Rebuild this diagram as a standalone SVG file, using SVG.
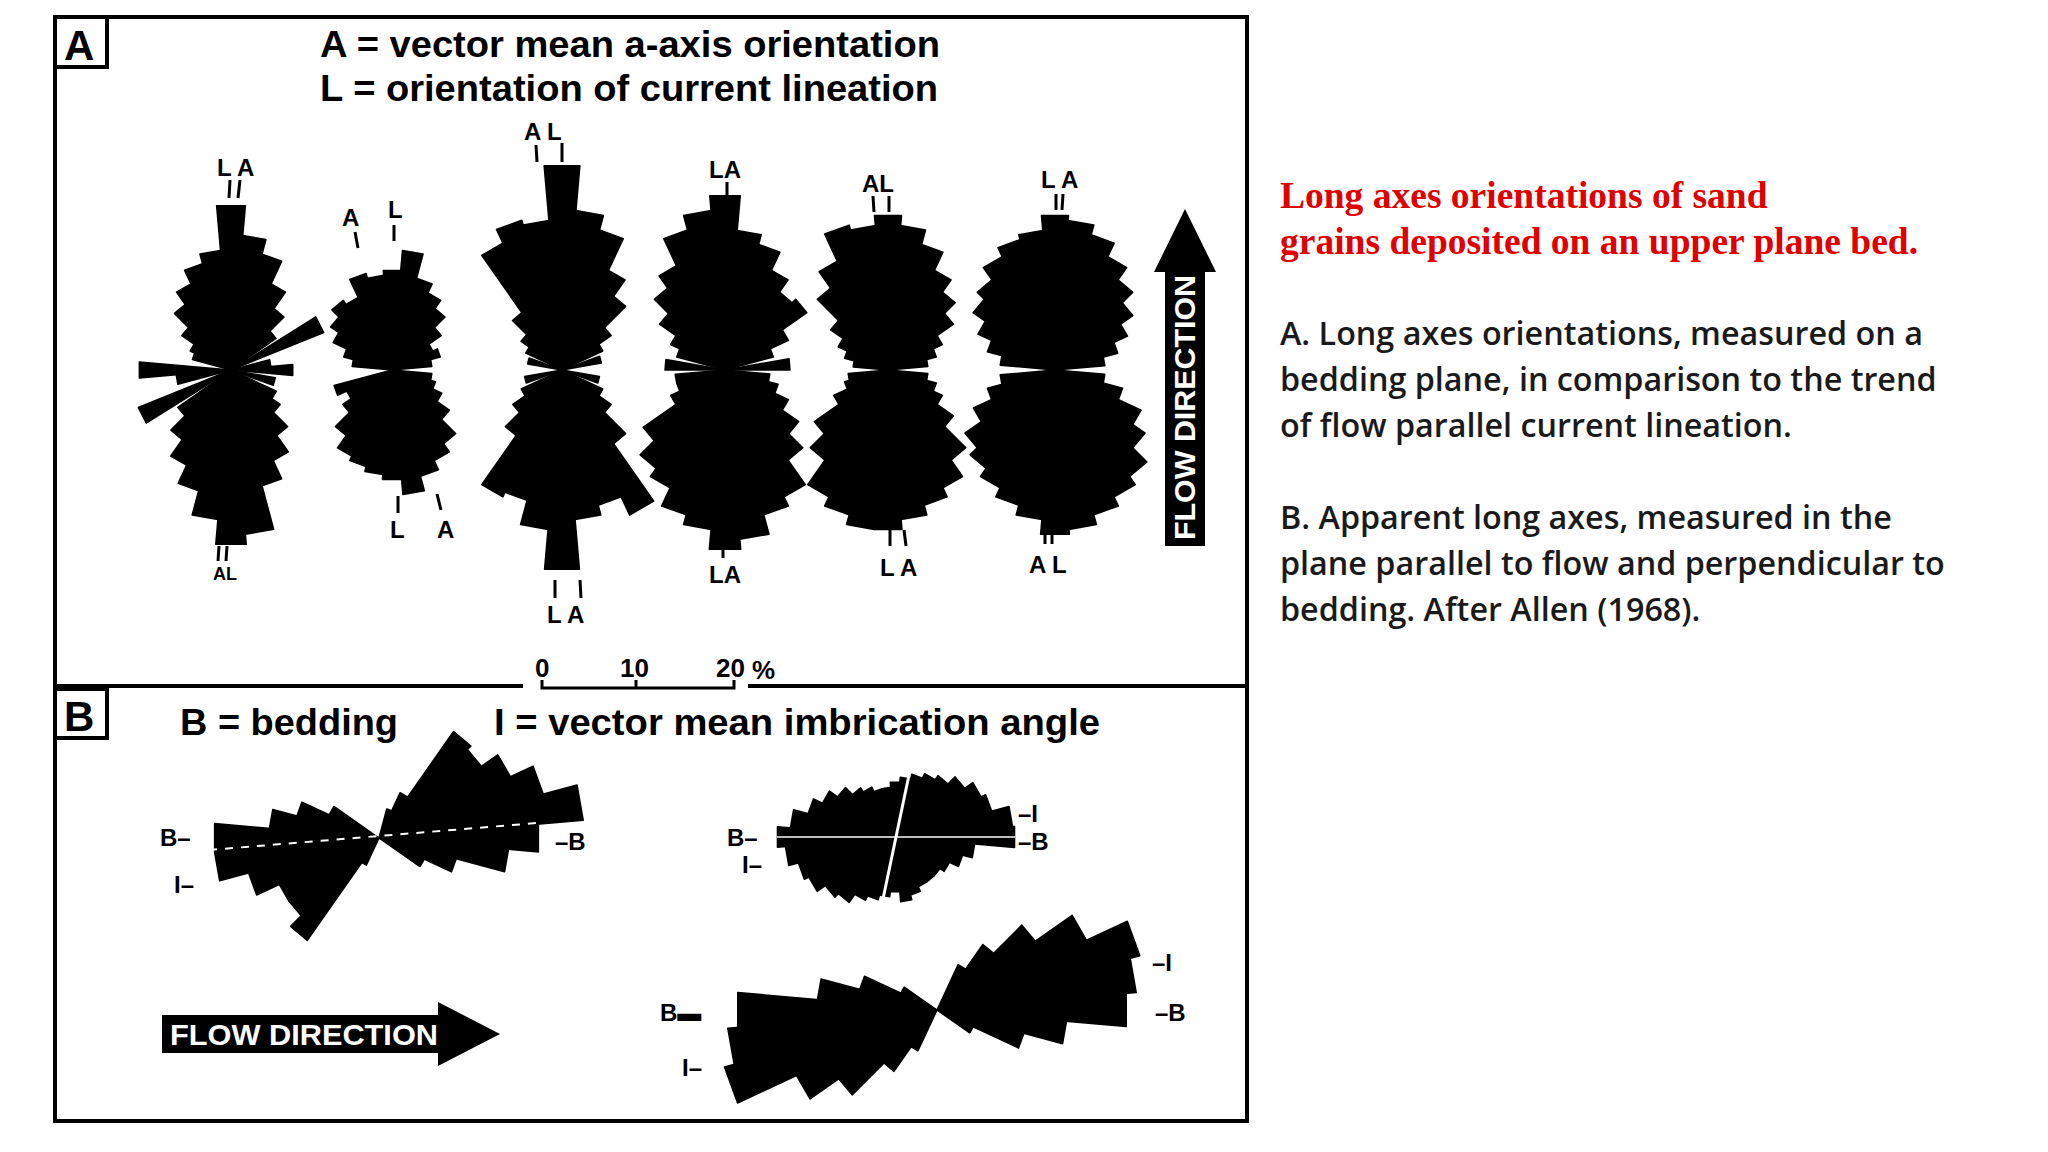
<svg xmlns="http://www.w3.org/2000/svg" xmlns:xlink="http://www.w3.org/1999/xlink" width="2048" height="1152" viewBox="0 0 2048 1152">
<style>
.lbl{font-family:"Liberation Sans",Arial,sans-serif;font-weight:bold;fill:#000}
.tk{stroke:#000;stroke-width:3;fill:none}
.red{font-family:"Liberation Serif","Times New Roman",serif;font-weight:bold;fill:#e00000;font-size:37.5px}
.body{font-family:"Open Sans","Noto Sans",sans-serif;font-weight:600;fill:#1a1a1a;font-size:32.3px}
</style>
<defs>
<path id="w" d="M0 0L-0.0872-0.9962L0.0872-0.9962Z" fill="#000" stroke="#000" stroke-width="1.5" vector-effect="non-scaling-stroke" stroke-linejoin="round"/>
</defs>
<rect width="2048" height="1152" fill="#fff"/>
<g id="frame">
<rect x="55" y="17" width="1192" height="1104" fill="none" stroke="#000" stroke-width="4"/>
<line x1="55" y1="686" x2="523" y2="686" stroke="#000" stroke-width="4"/>
<line x1="748" y1="686" x2="1247" y2="686" stroke="#000" stroke-width="4"/>
<rect x="55" y="17" width="52" height="50" fill="none" stroke="#000" stroke-width="4"/>
<text class="lbl" x="64" y="60" font-size="42">A</text>
<rect x="55" y="689" width="52" height="49" fill="none" stroke="#000" stroke-width="4"/>
<text class="lbl" x="64" y="731" font-size="42">B</text>
<text class="lbl" x="320" y="57" font-size="36" textLength="620" lengthAdjust="spacingAndGlyphs">A = vector mean a-axis orientation</text>
<text class="lbl" x="320" y="101" font-size="36" textLength="618" lengthAdjust="spacingAndGlyphs">L = orientation of current lineation</text>
<text class="lbl" x="180" y="735" font-size="36" textLength="218" lengthAdjust="spacingAndGlyphs">B = bedding</text>
<text class="lbl" x="494" y="735" font-size="36" textLength="606" lengthAdjust="spacingAndGlyphs">I = vector mean imbrication angle</text>
</g>
<g id="scale">
<text class="lbl" x="535" y="677" font-size="26">0</text>
<text class="lbl" x="620" y="677" font-size="26">10</text>
<text class="lbl" x="716" y="677" font-size="26">20</text>
<text class="lbl" x="752" y="679" font-size="26">%</text>
<path d="M542 680V688H734V680M636 680V688" class="tk" stroke-width="5"/>
</g>
<g id="roseA1" transform="translate(231,370)">
<use xlink:href="#w" transform="rotate(0) scale(165)"/><use xlink:href="#w" transform="rotate(10) scale(135)"/><use xlink:href="#w" transform="rotate(20) scale(120)"/><use xlink:href="#w" transform="rotate(30) scale(95)"/><use xlink:href="#w" transform="rotate(40) scale(75)"/><use xlink:href="#w" transform="rotate(50) scale(55)"/><use xlink:href="#w" transform="rotate(63) scale(100)"/><use xlink:href="#w" transform="rotate(80) scale(40)"/><use xlink:href="#w" transform="rotate(90) scale(62)"/>
<use xlink:href="#w" transform="rotate(-10) scale(120)"/><use xlink:href="#w" transform="rotate(-20) scale(110)"/><use xlink:href="#w" transform="rotate(-30) scale(95)"/><use xlink:href="#w" transform="rotate(-40) scale(80)"/><use xlink:href="#w" transform="rotate(-50) scale(60)"/><use xlink:href="#w" transform="rotate(-60) scale(45)"/><use xlink:href="#w" transform="rotate(-70) scale(40)"/><use xlink:href="#w" transform="rotate(-90) scale(92)"/>
<use xlink:href="#w" transform="rotate(180) scale(175)"/><use xlink:href="#w" transform="rotate(170) scale(165)"/><use xlink:href="#w" transform="rotate(190) scale(150)"/><use xlink:href="#w" transform="rotate(160) scale(120)"/><use xlink:href="#w" transform="rotate(200) scale(125)"/><use xlink:href="#w" transform="rotate(150) scale(100)"/><use xlink:href="#w" transform="rotate(210) scale(105)"/><use xlink:href="#w" transform="rotate(140) scale(80)"/><use xlink:href="#w" transform="rotate(220) scale(85)"/><use xlink:href="#w" transform="rotate(130) scale(60)"/><use xlink:href="#w" transform="rotate(230) scale(65)"/><use xlink:href="#w" transform="rotate(120) scale(50)"/><use xlink:href="#w" transform="rotate(243) scale(100)"/><use xlink:href="#w" transform="rotate(260) scale(55)"/><use xlink:href="#w" transform="rotate(105) scale(45)"/>
</g>
<g id="roseA2" transform="translate(392,370)">
<use xlink:href="#w" transform="rotate(0) scale(100)"/><use xlink:href="#w" transform="rotate(10) scale(120)"/><use xlink:href="#w" transform="rotate(-10) scale(95)"/><use xlink:href="#w" transform="rotate(20) scale(95)"/><use xlink:href="#w" transform="rotate(-20) scale(100)"/><use xlink:href="#w" transform="rotate(30) scale(85)"/><use xlink:href="#w" transform="rotate(-30) scale(80)"/><use xlink:href="#w" transform="rotate(40) scale(75)"/><use xlink:href="#w" transform="rotate(-40) scale(85)"/><use xlink:href="#w" transform="rotate(50) scale(60)"/><use xlink:href="#w" transform="rotate(-50) scale(75)"/><use xlink:href="#w" transform="rotate(-60) scale(65)"/><use xlink:href="#w" transform="rotate(60) scale(45)"/><use xlink:href="#w" transform="rotate(70) scale(50)"/><use xlink:href="#w" transform="rotate(-70) scale(50)"/><use xlink:href="#w" transform="rotate(80) scale(40)"/><use xlink:href="#w" transform="rotate(-80) scale(40)"/>
<use xlink:href="#w" transform="rotate(180) scale(110)"/><use xlink:href="#w" transform="rotate(170) scale(125)"/><use xlink:href="#w" transform="rotate(190) scale(105)"/><use xlink:href="#w" transform="rotate(160) scale(110)"/><use xlink:href="#w" transform="rotate(200) scale(100)"/><use xlink:href="#w" transform="rotate(150) scale(100)"/><use xlink:href="#w" transform="rotate(210) scale(95)"/><use xlink:href="#w" transform="rotate(140) scale(90)"/><use xlink:href="#w" transform="rotate(220) scale(80)"/><use xlink:href="#w" transform="rotate(130) scale(70)"/><use xlink:href="#w" transform="rotate(230) scale(60)"/><use xlink:href="#w" transform="rotate(120) scale(55)"/><use xlink:href="#w" transform="rotate(240) scale(50)"/><use xlink:href="#w" transform="rotate(110) scale(45)"/><use xlink:href="#w" transform="rotate(250) scale(60)"/><use xlink:href="#w" transform="rotate(100) scale(40)"/>
</g>
<g id="roseA3" transform="translate(562,370)">
<use xlink:href="#w" transform="rotate(0) scale(205)"/><use xlink:href="#w" transform="rotate(10) scale(160)"/><use xlink:href="#w" transform="rotate(-10) scale(150)"/><use xlink:href="#w" transform="rotate(20) scale(145)"/><use xlink:href="#w" transform="rotate(-20) scale(155)"/><use xlink:href="#w" transform="rotate(30) scale(110)"/><use xlink:href="#w" transform="rotate(-30) scale(140)"/><use xlink:href="#w" transform="rotate(40) scale(90)"/><use xlink:href="#w" transform="rotate(-40) scale(70)"/><use xlink:href="#w" transform="rotate(50) scale(60)"/><use xlink:href="#w" transform="rotate(-50) scale(50)"/><use xlink:href="#w" transform="rotate(60) scale(45)"/><use xlink:href="#w" transform="rotate(-60) scale(40)"/><use xlink:href="#w" transform="rotate(75) scale(40)"/><use xlink:href="#w" transform="rotate(-75) scale(35)"/>
<use xlink:href="#w" transform="rotate(180) scale(200)"/><use xlink:href="#w" transform="rotate(170) scale(150)"/><use xlink:href="#w" transform="rotate(190) scale(160)"/><use xlink:href="#w" transform="rotate(160) scale(140)"/><use xlink:href="#w" transform="rotate(200) scale(135)"/><use xlink:href="#w" transform="rotate(150) scale(160)"/><use xlink:href="#w" transform="rotate(210) scale(140)"/><use xlink:href="#w" transform="rotate(140) scale(90)"/><use xlink:href="#w" transform="rotate(220) scale(80)"/><use xlink:href="#w" transform="rotate(130) scale(60)"/><use xlink:href="#w" transform="rotate(230) scale(60)"/><use xlink:href="#w" transform="rotate(120) scale(45)"/><use xlink:href="#w" transform="rotate(240) scale(45)"/><use xlink:href="#w" transform="rotate(105) scale(38)"/><use xlink:href="#w" transform="rotate(255) scale(38)"/>
</g>
<g id="roseA4" transform="translate(725,370)">
<use xlink:href="#w" transform="rotate(0) scale(175)"/><use xlink:href="#w" transform="rotate(10) scale(140)"/><use xlink:href="#w" transform="rotate(-10) scale(160)"/><use xlink:href="#w" transform="rotate(20) scale(130)"/><use xlink:href="#w" transform="rotate(-20) scale(145)"/><use xlink:href="#w" transform="rotate(30) scale(110)"/><use xlink:href="#w" transform="rotate(-30) scale(115)"/><use xlink:href="#w" transform="rotate(40) scale(95)"/><use xlink:href="#w" transform="rotate(-40) scale(100)"/><use xlink:href="#w" transform="rotate(50) scale(100)"/><use xlink:href="#w" transform="rotate(-50) scale(80)"/><use xlink:href="#w" transform="rotate(60) scale(70)"/><use xlink:href="#w" transform="rotate(-60) scale(60)"/><use xlink:href="#w" transform="rotate(70) scale(50)"/><use xlink:href="#w" transform="rotate(-70) scale(50)"/><use xlink:href="#w" transform="rotate(85) scale(65)"/><use xlink:href="#w" transform="rotate(-85) scale(60)"/>
<use xlink:href="#w" transform="rotate(180) scale(180)"/><use xlink:href="#w" transform="rotate(170) scale(170)"/><use xlink:href="#w" transform="rotate(190) scale(160)"/><use xlink:href="#w" transform="rotate(160) scale(150)"/><use xlink:href="#w" transform="rotate(200) scale(150)"/><use xlink:href="#w" transform="rotate(150) scale(140)"/><use xlink:href="#w" transform="rotate(210) scale(130)"/><use xlink:href="#w" transform="rotate(140) scale(110)"/><use xlink:href="#w" transform="rotate(220) scale(120)"/><use xlink:href="#w" transform="rotate(130) scale(90)"/><use xlink:href="#w" transform="rotate(230) scale(100)"/><use xlink:href="#w" transform="rotate(120) scale(70)"/><use xlink:href="#w" transform="rotate(240) scale(60)"/><use xlink:href="#w" transform="rotate(110) scale(55)"/><use xlink:href="#w" transform="rotate(250) scale(50)"/><use xlink:href="#w" transform="rotate(100) scale(45)"/><use xlink:href="#w" transform="rotate(260) scale(50)"/>
</g>
<g id="roseA5" transform="translate(888,370)">
<use xlink:href="#w" transform="rotate(0) scale(155)"/><use xlink:href="#w" transform="rotate(10) scale(145)"/><use xlink:href="#w" transform="rotate(-10) scale(145)"/><use xlink:href="#w" transform="rotate(20) scale(130)"/><use xlink:href="#w" transform="rotate(-20) scale(150)"/><use xlink:href="#w" transform="rotate(30) scale(110)"/><use xlink:href="#w" transform="rotate(-30) scale(120)"/><use xlink:href="#w" transform="rotate(40) scale(95)"/><use xlink:href="#w" transform="rotate(-40) scale(100)"/><use xlink:href="#w" transform="rotate(50) scale(80)"/><use xlink:href="#w" transform="rotate(-50) scale(70)"/><use xlink:href="#w" transform="rotate(60) scale(60)"/><use xlink:href="#w" transform="rotate(-60) scale(55)"/><use xlink:href="#w" transform="rotate(70) scale(50)"/><use xlink:href="#w" transform="rotate(-70) scale(45)"/><use xlink:href="#w" transform="rotate(80) scale(40)"/><use xlink:href="#w" transform="rotate(-80) scale(35)"/>
<use xlink:href="#w" transform="rotate(180) scale(160)"/><use xlink:href="#w" transform="rotate(170) scale(150)"/><use xlink:href="#w" transform="rotate(190) scale(160)"/><use xlink:href="#w" transform="rotate(160) scale(140)"/><use xlink:href="#w" transform="rotate(200) scale(150)"/><use xlink:href="#w" transform="rotate(150) scale(130)"/><use xlink:href="#w" transform="rotate(210) scale(140)"/><use xlink:href="#w" transform="rotate(140) scale(110)"/><use xlink:href="#w" transform="rotate(220) scale(110)"/><use xlink:href="#w" transform="rotate(130) scale(80)"/><use xlink:href="#w" transform="rotate(230) scale(90)"/><use xlink:href="#w" transform="rotate(120) scale(60)"/><use xlink:href="#w" transform="rotate(240) scale(60)"/><use xlink:href="#w" transform="rotate(110) scale(50)"/><use xlink:href="#w" transform="rotate(250) scale(45)"/><use xlink:href="#w" transform="rotate(100) scale(40)"/><use xlink:href="#w" transform="rotate(260) scale(40)"/>
</g>
<g id="roseA6" transform="translate(1055,370)">
<use xlink:href="#w" transform="rotate(0) scale(155)"/><use xlink:href="#w" transform="rotate(10) scale(150)"/><use xlink:href="#w" transform="rotate(-10) scale(140)"/><use xlink:href="#w" transform="rotate(20) scale(140)"/><use xlink:href="#w" transform="rotate(-20) scale(135)"/><use xlink:href="#w" transform="rotate(30) scale(125)"/><use xlink:href="#w" transform="rotate(-30) scale(125)"/><use xlink:href="#w" transform="rotate(40) scale(110)"/><use xlink:href="#w" transform="rotate(-40) scale(110)"/><use xlink:href="#w" transform="rotate(50) scale(95)"/><use xlink:href="#w" transform="rotate(-50) scale(100)"/><use xlink:href="#w" transform="rotate(60) scale(80)"/><use xlink:href="#w" transform="rotate(-60) scale(85)"/><use xlink:href="#w" transform="rotate(70) scale(65)"/><use xlink:href="#w" transform="rotate(-70) scale(70)"/><use xlink:href="#w" transform="rotate(80) scale(50)"/><use xlink:href="#w" transform="rotate(-80) scale(55)"/>
<use xlink:href="#w" transform="rotate(180) scale(165)"/><use xlink:href="#w" transform="rotate(170) scale(160)"/><use xlink:href="#w" transform="rotate(190) scale(150)"/><use xlink:href="#w" transform="rotate(160) scale(150)"/><use xlink:href="#w" transform="rotate(200) scale(140)"/><use xlink:href="#w" transform="rotate(150) scale(140)"/><use xlink:href="#w" transform="rotate(210) scale(130)"/><use xlink:href="#w" transform="rotate(140) scale(130)"/><use xlink:href="#w" transform="rotate(220) scale(120)"/><use xlink:href="#w" transform="rotate(130) scale(110)"/><use xlink:href="#w" transform="rotate(230) scale(110)"/><use xlink:href="#w" transform="rotate(120) scale(95)"/><use xlink:href="#w" transform="rotate(240) scale(90)"/><use xlink:href="#w" transform="rotate(110) scale(70)"/><use xlink:href="#w" transform="rotate(250) scale(70)"/><use xlink:href="#w" transform="rotate(100) scale(50)"/><use xlink:href="#w" transform="rotate(260) scale(55)"/>
</g>
<g id="labelsA">
<text class="lbl" x="217" y="176" font-size="24">L A</text>
<path class="tk" d="M230 180L229 198M240 180L238 198M219 546L218 561M227 546L226 561"/>
<text class="lbl" x="213" y="580" font-size="18">AL</text>
<text class="lbl" x="342" y="226" font-size="24">A</text>
<text class="lbl" x="388" y="218" font-size="24">L</text>
<path class="tk" d="M355 232L358 248M394 225L394 241M398 496L398 513M437 494L441 510"/>
<text class="lbl" x="390" y="538" font-size="24">L</text>
<text class="lbl" x="437" y="538" font-size="24">A</text>
<text class="lbl" x="524" y="140" font-size="24">A L</text>
<path class="tk" d="M536 145L537 162M562 143L562 162M555 580L555 598M580 580L581 598"/>
<text class="lbl" x="547" y="623" font-size="24">L A</text>
<text class="lbl" x="709" y="178" font-size="24">LA</text>
<path class="tk" d="M727 182L727 200M723 540L723 558"/>
<text class="lbl" x="709" y="583" font-size="24">LA</text>
<text class="lbl" x="862" y="192" font-size="24">AL</text>
<path class="tk" d="M873 196L874 212M889 196L889 212M890 530L890 546M904 530L906 546"/>
<text class="lbl" x="880" y="576" font-size="24">L A</text>
<text class="lbl" x="1041" y="188" font-size="24">L A</text>
<path class="tk" d="M1056 194L1056 210M1063 194L1062 210M1045 528L1045 544M1052 528L1052 544"/>
<text class="lbl" x="1029" y="573" font-size="24">A L</text>
</g>
<g id="flowA">
<rect x="1165" y="268" width="40" height="278" fill="#000"/>
<path d="M1154 272L1185 209L1216 272Z" fill="#000"/>
<text class="lbl" transform="translate(1195,540) rotate(-90)" font-size="29" style="fill:#fff" textLength="265" lengthAdjust="spacingAndGlyphs">FLOW DIRECTION</text>
</g>
<g id="roseB1" transform="translate(379,838)">
<use xlink:href="#w" transform="rotate(90) scale(160)"/><use xlink:href="#w" transform="rotate(80) scale(205)"/><use xlink:href="#w" transform="rotate(70) scale(170)"/><use xlink:href="#w" transform="rotate(60) scale(145)"/><use xlink:href="#w" transform="rotate(50) scale(125)"/><use xlink:href="#w" transform="rotate(40) scale(130)"/><use xlink:href="#w" transform="rotate(30) scale(50)"/><use xlink:href="#w" transform="rotate(20) scale(30)"/><use xlink:href="#w" transform="rotate(100) scale(130)"/><use xlink:href="#w" transform="rotate(110) scale(80)"/><use xlink:href="#w" transform="rotate(120) scale(50)"/>
<use xlink:href="#w" transform="rotate(270) scale(165)"/><use xlink:href="#w" transform="rotate(260) scale(165)"/><use xlink:href="#w" transform="rotate(250) scale(135)"/><use xlink:href="#w" transform="rotate(240) scale(110)"/><use xlink:href="#w" transform="rotate(230) scale(110)"/><use xlink:href="#w" transform="rotate(220) scale(125)"/><use xlink:href="#w" transform="rotate(210) scale(30)"/><use xlink:href="#w" transform="rotate(280) scale(110)"/><use xlink:href="#w" transform="rotate(290) scale(85)"/><use xlink:href="#w" transform="rotate(300) scale(55)"/>
<line x1="-170" y1="12" x2="158" y2="-15" stroke="#fff" stroke-width="2" stroke-dasharray="8 8"/>
</g>
<g id="roseB2" transform="translate(895,837)">
<use xlink:href="#w" transform="rotate(90) scale(120)"/><use xlink:href="#w" transform="rotate(80) scale(118)"/><use xlink:href="#w" transform="rotate(70) scale(100)"/><use xlink:href="#w" transform="rotate(60) scale(95)"/><use xlink:href="#w" transform="rotate(50) scale(85)"/><use xlink:href="#w" transform="rotate(40) scale(75)"/><use xlink:href="#w" transform="rotate(30) scale(70)"/><use xlink:href="#w" transform="rotate(20) scale(65)"/><use xlink:href="#w" transform="rotate(10) scale(60)"/><use xlink:href="#w" transform="rotate(0) scale(55)"/><use xlink:href="#w" transform="rotate(-10) scale(50)"/><use xlink:href="#w" transform="rotate(-20) scale(50)"/><use xlink:href="#w" transform="rotate(-30) scale(55)"/><use xlink:href="#w" transform="rotate(-40) scale(60)"/><use xlink:href="#w" transform="rotate(-50) scale(70)"/><use xlink:href="#w" transform="rotate(-60) scale(80)"/><use xlink:href="#w" transform="rotate(-70) scale(90)"/><use xlink:href="#w" transform="rotate(-80) scale(105)"/><use xlink:href="#w" transform="rotate(-90) scale(118)"/>
<use xlink:href="#w" transform="rotate(100) scale(80)"/><use xlink:href="#w" transform="rotate(110) scale(70)"/><use xlink:href="#w" transform="rotate(120) scale(60)"/><use xlink:href="#w" transform="rotate(130) scale(55)"/><use xlink:href="#w" transform="rotate(140) scale(55)"/><use xlink:href="#w" transform="rotate(150) scale(55)"/><use xlink:href="#w" transform="rotate(160) scale(60)"/><use xlink:href="#w" transform="rotate(170) scale(65)"/><use xlink:href="#w" transform="rotate(180) scale(55)"/><use xlink:href="#w" transform="rotate(190) scale(60)"/><use xlink:href="#w" transform="rotate(200) scale(65)"/><use xlink:href="#w" transform="rotate(210) scale(70)"/><use xlink:href="#w" transform="rotate(220) scale(80)"/><use xlink:href="#w" transform="rotate(230) scale(85)"/><use xlink:href="#w" transform="rotate(240) scale(95)"/><use xlink:href="#w" transform="rotate(250) scale(100)"/><use xlink:href="#w" transform="rotate(260) scale(110)"/>
<line x1="-118" y1="0" x2="120" y2="0" stroke="#bbb" stroke-width="2"/>
<line x1="-12" y1="62" x2="14" y2="-62" stroke="#fff" stroke-width="3"/>
</g>
<g id="roseB3" transform="translate(937,1010)">
<use xlink:href="#w" transform="rotate(90) scale(190)"/><use xlink:href="#w" transform="rotate(80) scale(200)"/><use xlink:href="#w" transform="rotate(70) scale(210)"/><use xlink:href="#w" transform="rotate(60) scale(165)"/><use xlink:href="#w" transform="rotate(50) scale(120)"/><use xlink:href="#w" transform="rotate(40) scale(80)"/><use xlink:href="#w" transform="rotate(30) scale(50)"/><use xlink:href="#w" transform="rotate(100) scale(130)"/><use xlink:href="#w" transform="rotate(110) scale(90)"/><use xlink:href="#w" transform="rotate(120) scale(40)"/>
<use xlink:href="#w" transform="rotate(270) scale(200)"/><use xlink:href="#w" transform="rotate(260) scale(210)"/><use xlink:href="#w" transform="rotate(250) scale(220)"/><use xlink:href="#w" transform="rotate(240) scale(155)"/><use xlink:href="#w" transform="rotate(230) scale(120)"/><use xlink:href="#w" transform="rotate(220) scale(75)"/><use xlink:href="#w" transform="rotate(210) scale(45)"/><use xlink:href="#w" transform="rotate(280) scale(120)"/><use xlink:href="#w" transform="rotate(290) scale(80)"/><use xlink:href="#w" transform="rotate(300) scale(40)"/>
</g>
<g id="labelsB">
<text class="lbl" x="160" y="846" font-size="24">B–</text>
<text class="lbl" x="552" y="806" font-size="24">–I</text>
<text class="lbl" x="555" y="850" font-size="24">–B</text>
<text class="lbl" x="174" y="893" font-size="24">I–</text>
<text class="lbl" x="727" y="846" font-size="24">B–</text>
<text class="lbl" x="742" y="873" font-size="24">I–</text>
<text class="lbl" x="1018" y="822" font-size="24">–I</text>
<text class="lbl" x="1018" y="850" font-size="24">–B</text>
<text class="lbl" x="660" y="1021" font-size="24">B▬</text>
<text class="lbl" x="682" y="1076" font-size="24">I–</text>
<text class="lbl" x="1152" y="971" font-size="24">–I</text>
<text class="lbl" x="1155" y="1021" font-size="24">–B</text>
</g>
<g id="flowB">
<rect x="162" y="1015" width="278" height="38" fill="#000"/>
<path d="M438 1002L500 1034L438 1066Z" fill="#000"/>
<text class="lbl" x="170" y="1045" font-size="30" style="fill:#fff" textLength="268" lengthAdjust="spacingAndGlyphs">FLOW DIRECTION</text>
</g>
<g id="caption">
<text class="red" x="1280" y="208">Long axes orientations of sand</text>
<text class="red" x="1280" y="254">grains deposited on an upper plane bed.</text>
<text class="body" x="1280" y="345">A. Long axes orientations, measured on a</text>
<text class="body" x="1280" y="391">bedding plane, in comparison to the trend</text>
<text class="body" x="1280" y="437">of flow parallel current lineation.</text>
<text class="body" x="1280" y="529">B. Apparent long axes, measured in the</text>
<text class="body" x="1280" y="575">plane parallel to flow and perpendicular to</text>
<text class="body" x="1280" y="621">bedding. After Allen (1968).</text>
</g>
</svg>
